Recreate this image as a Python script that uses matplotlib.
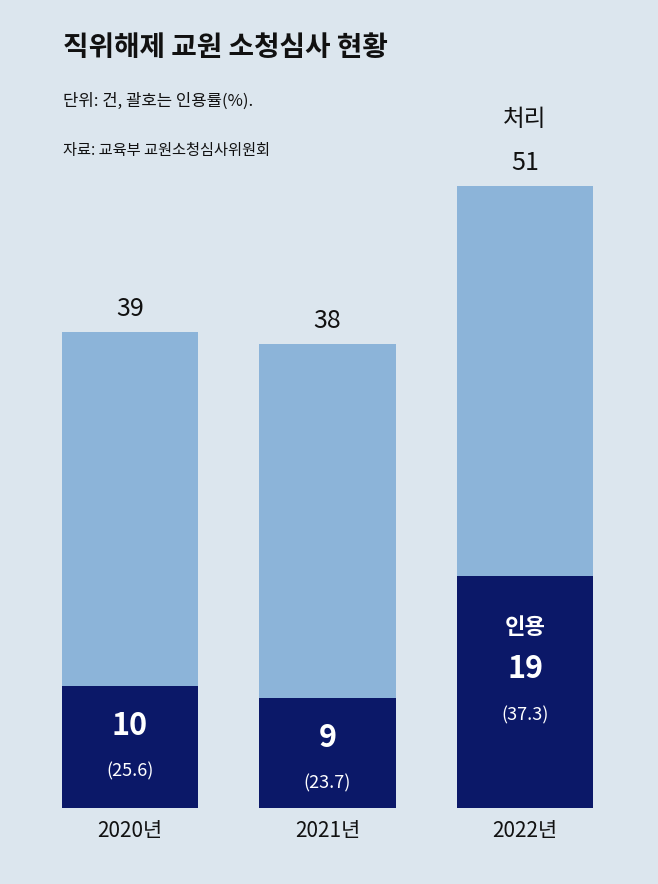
import matplotlib
matplotlib.use("Agg")
import matplotlib.pyplot as plt

years = ["2020년", "2021년", "2022년"]
processed = [39, 38, 51]
accepted = [10, 9, 19]
rates = ["25.6", "23.7", "37.3"]

plt.rcParams["font.family"] = ["Noto Sans CJK KR", "Noto Sans CJK SC", "Noto Sans CJK JP", "DejaVu Sans"]
bg = "#dce6ee"
light = "#8cb4d9"
dark = "#0b1868"

fig = plt.figure(figsize=(6.58, 8.84), dpi=100, facecolor=bg)
ax = fig.add_axes([0, 76/884, 1, 808/884])
ax.set_facecolor(bg)
ax.set_xlim(-0.658, 2.673)
ax.set_ylim(0, 66.2)
ax.axis("off")

x = range(len(years))
ax.bar(x, processed, width=0.69, color=light)
ax.bar(x, accepted, width=0.69, color=dark)
for i in x:
    ax.text(i, processed[i] + 0.8, str(processed[i]), ha="center", va="bottom", fontsize=18, color="#111")
    ax.text(i, -1.9, years[i], ha="center", va="center", fontsize=15, color="#111")
    if i < 2:
        ax.text(i, accepted[i] - 3.3, str(accepted[i]), ha="center", va="center", fontsize=22, color="white", fontweight="bold")
        ax.text(i, accepted[i] - 7.0, f"({rates[i]})", ha="center", va="center", fontsize=13, color="white")
    else:
        ax.text(i, accepted[i] - 4.2, "인용", ha="center", va="center", fontsize=16, color="white", fontweight="bold")
        ax.text(i, accepted[i] - 7.6, str(accepted[i]), ha="center", va="center", fontsize=22, color="white", fontweight="bold")
        ax.text(i, accepted[i] - 11.4, f"({rates[i]})", ha="center", va="center", fontsize=13, color="white")
ax.text(2, processed[2] + 4.5, "처리", ha="center", va="bottom", fontsize=17, color="#111")

fig.text(0.095, 1 - 48/884, "직위해제 교원 소청심사 현황", fontsize=20, fontweight="bold", va="center", color="#111")
fig.text(0.095, 1 - 101/884, "단위: 건, 괄호는 인용률(%).", fontsize=12, va="center", color="#111")
fig.text(0.095, 1 - 150/884, "자료: 교육부 교원소청심사위원회", fontsize=11, va="center", color="#111")

fig.savefig("out.png", dpi=100, facecolor=bg)
